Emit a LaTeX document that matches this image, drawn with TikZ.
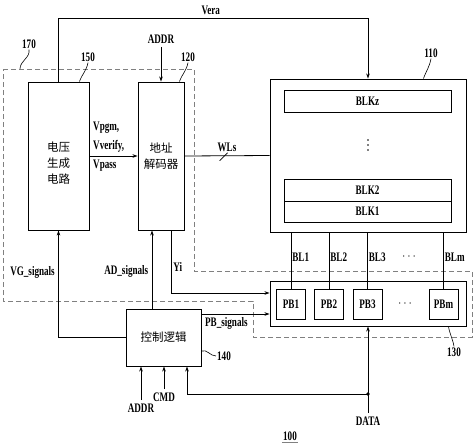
\documentclass[tikz,border=0pt]{standalone}
\usepackage{fontspec}
\usetikzlibrary{arrows.meta,calc}
\newfontfamily\patfont[FakeStretch=0.70]{Liberation Serif}
\newfontfamily\cjkfont{Noto Sans CJK SC}
\tikzset{
  blk/.style={draw, line width=0.9pt, inner sep=0pt},
  cjk/.style={font=\cjkfont\fontsize{11.5}{16}\selectfont, align=center},
  sig/.style={-{Stealth[length=5pt,width=3.5pt]}, line width=0.8pt},
  lead/.style={line width=0.6pt},
  grp/.style={draw=gray, line width=0.8pt, dash pattern=on 5pt off 3pt},
  ref/.style={inner sep=1pt}
}
\begin{document}
\begin{tikzpicture}[x=1pt,y=-1pt,font=\patfont\bfseries\fontsize{13}{15}\selectfont]
      \useasboundingbox (0,0) rectangle (474,447);
      % dashed group 170
      \draw[grp] (3,69) -- (194,69) -- (194,271) -- (472,271) -- (472,337)
        -- (253,337) -- (253,301) -- (3,301) -- cycle;
      % blocks
      \node[blk, minimum width=61pt, minimum height=148pt] (volt) at (58.5,156) {};
      \node[cjk] (volttxt) at (58.5,163) {电压\\生成\\电路};
      \node[blk, cjk, minimum width=46pt, minimum height=148pt] (dec) at (161,156) {地址\\解码器};
      \node[blk, minimum width=196pt, minimum height=153pt] (arr) at (368,155.5) {};
      \node[blk, minimum width=167pt, minimum height=22pt] (blkz) at (367.5,101) {BLKz};
      \foreach \y in {140,145,150} \fill (368,\y) circle (0.9);
      \node[blk, minimum width=167pt, minimum height=22pt] (blk2) at (367.5,190) {BLK2};
      \node[blk, minimum width=167pt, minimum height=21pt] (blk1) at (367.5,211.5) {BLK1};
      \node[blk, minimum width=196pt, minimum height=45pt] (pbg) at (368,303.5) {};
      \node[blk, minimum width=29pt, minimum height=30pt] (pb1) at (291,304) {PB1};
      \node[blk, minimum width=29pt, minimum height=30pt] (pb2) at (329,304) {PB2};
      \node[blk, minimum width=29pt, minimum height=30pt] (pb3) at (367.5,304) {PB3};
      \node (pdots) at (405,304) {$\cdots$};
      \node[blk, minimum width=29pt, minimum height=30pt] (pbm) at (443.5,304) {PBm};
      \node[blk, cjk, minimum width=75pt, minimum height=57pt] (ctrl) at (163.5,337.5) {控制逻辑};
      % signals
      \draw[sig] (volt.north) -- ++(0,-63) -| node[pos=0.246, above] {Vera} (arr.north);
      \node (addrt) at (161,39) {ADDR};
      \draw[sig] (addrt) -- (dec.north);
      \draw[sig] (volt.east) -- node[pos=0, above right, align=left,
        font=\patfont\bfseries\fontsize{13}{18.5}\selectfont] {Vpgm,\\Vverify,}
        node[pos=0, below right] {Vpass} (dec.west);
      \draw[line width=0.8pt] (dec.east) -- node[above] {WLs} coordinate[pos=0.46] (wl) (arr.west);
      \draw[lead] ($(wl)+(-4,5)$) -- ($(wl)+(4,-3)$);
      \draw[sig] ([xshift=10pt]dec.south) |- node[pos=0.29, right, inner sep=2pt] {Yi} ([yshift=10.5pt]pbg.west);
      \draw[sig] ([xshift=-11.5pt]ctrl.north) -- node[pos=0.47, left] {AD\_signals}
        ([xshift=-11.5pt]ctrl.north |- dec.south);
      \draw[sig] (ctrl.west) -| node[pos=0.805, left] {VG\_signals} (volt.south);
      \draw[sig] ([yshift=23.5pt]ctrl.east) -- node[pos=0, below right] {PB\_signals}
        ([yshift=23.5pt]ctrl.east -| pbg.west);
      % bit lines
      \draw[line width=0.8pt] (pb1.north |- arr.south) -- node[pos=0.44, right, inner sep=1pt] {BL1} (pb1.north);
      \draw[line width=0.8pt] (pb2.north |- arr.south) -- node[pos=0.44, right, inner sep=1pt] {BL2} (pb2.north);
      \draw[line width=0.8pt] (pb3.north |- arr.south) -- node[pos=0.44, right, inner sep=1pt] {BL3} (pb3.north);
      \draw[line width=0.8pt] (pbm.north |- arr.south) -- node[pos=0.44, right, inner sep=1pt] {BLm} (pbm.north);
      \node (bdots) at (409,257) {$\cdots$};
      % data and control inputs
      \node (data) at (368,421) {DATA};
      \draw[sig] (data) -- (pbg.south);
      \coordinate (dj) at (368,394);
      \fill (dj) circle (1.8);
      \draw[sig] (dj) -| ([xshift=23.5pt]ctrl.south);
      \node (addrb) at (141,408) {ADDR};
      \draw[sig] (addrb) -- (addrb |- ctrl.south);
      \node (cmd) at (164,397) {CMD};
      \draw[sig] (cmd) -- (cmd |- ctrl.south);
      % reference numerals
      \node[ref] (r170) at (29,44) {170};
      \draw[lead] (r170.south) to[out=-80,in=90] (20,69);
      \node[ref] (r150) at (88,57) {150};
      \draw[lead] (r150.south) to[out=-100,in=70] ($(volt.north east)+(-10,0)$);
      \node[ref] (r120) at (188,57) {120};
      \draw[lead] (r120.south) to[out=-100,in=70] ($(dec.north east)+(-5,0)$);
      \node[ref] (r110) at (431,53) {110};
      \draw[lead] (r110.south) to[out=-100,in=70] ($(arr.north east)+(-43,0)$);
      \node[ref] (r130) at (454,352) {130};
      \draw[lead] (r130.north) to[out=100,in=-80] ($(pbg.south east)+(-18,0)$);
      \node[ref] (r140) at (224,356) {140};
      \draw[lead] ($(ctrl.east)+(0,13.5)$) to[out=20,in=180] (r140.west);
      \node[ref] (r100) at (290,436) {100};
      \draw[gray, line width=1.8pt] ($(r100.south west)+(0,1)$) -- ($(r100.south east)+(0,1)$);
\end{tikzpicture}
\end{document}
